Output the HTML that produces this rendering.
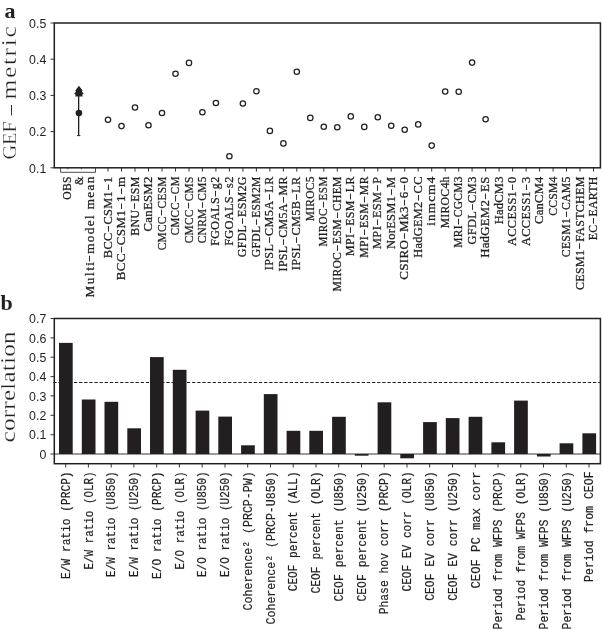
<!DOCTYPE html>
<html lang="en"><head><meta charset="utf-8"><title>GEF-metric and correlation</title>
<style>
html,body{margin:0;padding:0;background:#fff;}
body{width:602px;height:629px;overflow:hidden;}
svg{display:block;}
.sans{font-family:"Liberation Sans",sans-serif;}
.serif{font-family:"Liberation Serif",serif;}
.mono{font-family:"Liberation Mono",monospace;}
</style></head><body>
<svg width="602" height="629" viewBox="0 0 602 629">
<rect x="0" y="0" width="602" height="629" fill="#fff"/>

<g id="panel-a" fill="none" stroke="#231f20">
<rect x="54.3" y="23.0" width="546.1" height="144.8" stroke-width="1.5"/>
<line x1="50.5" x2="54.3" y1="167.8" y2="167.8" stroke-width="0.9"/>
<line x1="50.5" x2="54.3" y1="131.6" y2="131.6" stroke-width="0.9"/>
<line x1="50.5" x2="54.3" y1="95.4" y2="95.4" stroke-width="0.9"/>
<line x1="50.5" x2="54.3" y1="59.2" y2="59.2" stroke-width="0.9"/>
<line x1="50.5" x2="54.3" y1="23.0" y2="23.0" stroke-width="0.9"/>
</g>
<g class="sans" font-size="12.3" fill="#231f20" text-anchor="end">
<text x="46.3" y="172.5" textLength="17.2" lengthAdjust="spacingAndGlyphs">0.1</text>
<text x="46.3" y="136.3" textLength="17.2" lengthAdjust="spacingAndGlyphs">0.2</text>
<text x="46.3" y="100.1" textLength="17.2" lengthAdjust="spacingAndGlyphs">0.3</text>
<text x="46.3" y="63.9" textLength="17.2" lengthAdjust="spacingAndGlyphs">0.4</text>
<text x="46.3" y="27.7" textLength="17.2" lengthAdjust="spacingAndGlyphs">0.5</text>
</g>
<g stroke="#231f20" stroke-width="0.9" fill="none">
<line x1="108.0" x2="108.0" y1="167.8" y2="171.6"/>
<line x1="121.5" x2="121.5" y1="167.8" y2="171.6"/>
<line x1="135.0" x2="135.0" y1="167.8" y2="171.6"/>
<line x1="148.5" x2="148.5" y1="167.8" y2="171.6"/>
<line x1="162.0" x2="162.0" y1="167.8" y2="171.6"/>
<line x1="175.5" x2="175.5" y1="167.8" y2="171.6"/>
<line x1="189.0" x2="189.0" y1="167.8" y2="171.6"/>
<line x1="202.4" x2="202.4" y1="167.8" y2="171.6"/>
<line x1="215.9" x2="215.9" y1="167.8" y2="171.6"/>
<line x1="229.4" x2="229.4" y1="167.8" y2="171.6"/>
<line x1="242.9" x2="242.9" y1="167.8" y2="171.6"/>
<line x1="256.4" x2="256.4" y1="167.8" y2="171.6"/>
<line x1="269.9" x2="269.9" y1="167.8" y2="171.6"/>
<line x1="283.4" x2="283.4" y1="167.8" y2="171.6"/>
<line x1="296.8" x2="296.8" y1="167.8" y2="171.6"/>
<line x1="310.3" x2="310.3" y1="167.8" y2="171.6"/>
<line x1="323.8" x2="323.8" y1="167.8" y2="171.6"/>
<line x1="337.3" x2="337.3" y1="167.8" y2="171.6"/>
<line x1="350.8" x2="350.8" y1="167.8" y2="171.6"/>
<line x1="364.3" x2="364.3" y1="167.8" y2="171.6"/>
<line x1="377.8" x2="377.8" y1="167.8" y2="171.6"/>
<line x1="391.2" x2="391.2" y1="167.8" y2="171.6"/>
<line x1="404.7" x2="404.7" y1="167.8" y2="171.6"/>
<line x1="418.2" x2="418.2" y1="167.8" y2="171.6"/>
<line x1="431.7" x2="431.7" y1="167.8" y2="171.6"/>
<line x1="445.2" x2="445.2" y1="167.8" y2="171.6"/>
<line x1="458.7" x2="458.7" y1="167.8" y2="171.6"/>
<line x1="472.1" x2="472.1" y1="167.8" y2="171.6"/>
<line x1="485.6" x2="485.6" y1="167.8" y2="171.6"/>
<line x1="499.1" x2="499.1" y1="167.8" y2="171.6"/>
<line x1="512.6" x2="512.6" y1="167.8" y2="171.6"/>
<line x1="526.1" x2="526.1" y1="167.8" y2="171.6"/>
<line x1="539.6" x2="539.6" y1="167.8" y2="171.6"/>
<line x1="553.1" x2="553.1" y1="167.8" y2="171.6"/>
<line x1="566.5" x2="566.5" y1="167.8" y2="171.6"/>
<line x1="580.0" x2="580.0" y1="167.8" y2="171.6"/>
<line x1="593.5" x2="593.5" y1="167.8" y2="171.6"/>
<path d="M60.6 167.8 V172.3 H95.5 V167.8" stroke-width="0.8"/>
<line x1="67.8" x2="67.8" y1="167.8" y2="169.4" stroke-width="0.7"/>
<line x1="81.3" x2="81.3" y1="167.8" y2="169.4" stroke-width="0.7"/>
</g>
<g stroke="#231f20" stroke-width="1.25" fill="#fff">
<circle cx="108.0" cy="119.7" r="2.68"/>
<circle cx="121.5" cy="126.1" r="2.68"/>
<circle cx="135.0" cy="107.5" r="2.68"/>
<circle cx="148.5" cy="125.2" r="2.68"/>
<circle cx="162.0" cy="113.0" r="2.68"/>
<circle cx="175.5" cy="73.8" r="2.68"/>
<circle cx="189.0" cy="62.9" r="2.68"/>
<circle cx="202.4" cy="112.2" r="2.68"/>
<circle cx="215.9" cy="103.0" r="2.68"/>
<circle cx="229.4" cy="156.3" r="2.68"/>
<circle cx="242.9" cy="103.5" r="2.68"/>
<circle cx="256.4" cy="91.3" r="2.68"/>
<circle cx="269.9" cy="130.9" r="2.68"/>
<circle cx="283.4" cy="143.4" r="2.68"/>
<circle cx="296.8" cy="71.8" r="2.68"/>
<circle cx="310.3" cy="117.9" r="2.68"/>
<circle cx="323.8" cy="126.7" r="2.68"/>
<circle cx="337.3" cy="127.2" r="2.68"/>
<circle cx="350.8" cy="116.4" r="2.68"/>
<circle cx="364.3" cy="126.9" r="2.68"/>
<circle cx="377.8" cy="117.2" r="2.68"/>
<circle cx="391.2" cy="125.7" r="2.68"/>
<circle cx="404.7" cy="129.7" r="2.68"/>
<circle cx="418.2" cy="124.4" r="2.68"/>
<circle cx="431.7" cy="145.6" r="2.68"/>
<circle cx="445.2" cy="91.5" r="2.68"/>
<circle cx="458.7" cy="91.8" r="2.68"/>
<circle cx="472.1" cy="62.6" r="2.68"/>
<circle cx="485.6" cy="119.2" r="2.68"/>
</g>
<g stroke="#231f20" fill="#231f20">
<line x1="78.65" x2="78.65" y1="90" y2="135.7" stroke-width="1.3"/>
<line x1="76.95" x2="80.35000000000001" y1="135.6" y2="135.6" stroke-width="0.9"/>
<circle cx="78.9" cy="113.1" r="3.3" stroke="none"/>
<polygon points="78.95,85.7 82.55,90.6 81.95,91.8 83.65,93.6 82.25,94.7 82.65,96.6 75.25,96.6 75.65,94.7 74.25,93.6 75.95,91.8 75.35,90.6" stroke="none"/>
</g>
<g class="serif" font-size="12" fill="#231f20" stroke="#231f20" stroke-width="0.28" text-anchor="end">
<g><text text-anchor="start" transform="translate(111.5 258.2) rotate(-90) scale(1.030 1)" textLength="24.7" lengthAdjust="spacing">BCC</text><text text-anchor="start" stroke-width="0.1" transform="translate(111.5 232.2) rotate(-90)" textLength="7.0" lengthAdjust="spacingAndGlyphs">-</text><text text-anchor="start" transform="translate(111.5 224.5) rotate(-90) scale(1.030 1)" textLength="32.3" lengthAdjust="spacing">CSM1</text><text text-anchor="start" stroke-width="0.1" transform="translate(111.5 190.8) rotate(-90)" textLength="7.0" lengthAdjust="spacingAndGlyphs">-</text><text text-anchor="start" transform="translate(111.5 183.0) rotate(-90) scale(1.030 1)" textLength="6.2" lengthAdjust="spacing">1</text></g>
<g><text text-anchor="start" transform="translate(125.0 280.2) rotate(-90) scale(1.086 1)" textLength="24.7" lengthAdjust="spacing">BCC</text><text text-anchor="start" stroke-width="0.1" transform="translate(124.9 252.9) rotate(-90)" textLength="7.0" lengthAdjust="spacingAndGlyphs">-</text><text text-anchor="start" transform="translate(125.0 245.2) rotate(-90) scale(1.086 1)" textLength="32.3" lengthAdjust="spacing">CSM1</text><text text-anchor="start" stroke-width="0.1" transform="translate(124.9 209.7) rotate(-90)" textLength="7.0" lengthAdjust="spacingAndGlyphs">-</text><text text-anchor="start" transform="translate(125.0 201.9) rotate(-90) scale(1.086 1)" textLength="6.2" lengthAdjust="spacing">1</text><text text-anchor="start" stroke-width="0.1" transform="translate(124.9 194.7) rotate(-90)" textLength="7.0" lengthAdjust="spacingAndGlyphs">-</text><text text-anchor="start" transform="translate(125.0 187.0) rotate(-90) scale(1.086 1)" textLength="9.6" lengthAdjust="spacing">m</text></g>
<g><text text-anchor="start" transform="translate(138.5 235.8) rotate(-90) scale(0.990 1)" textLength="26.1" lengthAdjust="spacing">BNU</text><text text-anchor="start" stroke-width="0.1" transform="translate(138.4 209.5) rotate(-90)" textLength="7.0" lengthAdjust="spacingAndGlyphs">-</text><text text-anchor="start" transform="translate(138.5 201.8) rotate(-90) scale(0.990 1)" textLength="25.4" lengthAdjust="spacing">ESM</text></g>
<text transform="translate(152.0 176.6) rotate(-90) scale(1.068 1)" textLength="51.4" lengthAdjust="spacing">CanESM2</text>
<g><text text-anchor="start" transform="translate(165.5 250.3) rotate(-90) scale(0.943 1)" textLength="35.7" lengthAdjust="spacing">CMCC</text><text text-anchor="start" stroke-width="0.1" transform="translate(165.4 216.1) rotate(-90)" textLength="7.0" lengthAdjust="spacingAndGlyphs">-</text><text text-anchor="start" transform="translate(165.5 208.4) rotate(-90) scale(0.943 1)" textLength="33.7" lengthAdjust="spacing">CESM</text></g>
<g><text text-anchor="start" transform="translate(179.0 235.3) rotate(-90) scale(0.918 1)" textLength="35.8" lengthAdjust="spacing">CMCC</text><text text-anchor="start" stroke-width="0.1" transform="translate(178.9 202.0) rotate(-90)" textLength="7.0" lengthAdjust="spacingAndGlyphs">-</text><text text-anchor="start" transform="translate(179.0 194.2) rotate(-90) scale(0.918 1)" textLength="19.2" lengthAdjust="spacing">CM</text></g>
<g><text text-anchor="start" transform="translate(192.5 243.3) rotate(-90) scale(0.945 1)" textLength="35.7" lengthAdjust="spacing">CMCC</text><text text-anchor="start" stroke-width="0.1" transform="translate(192.4 209.0) rotate(-90)" textLength="7.0" lengthAdjust="spacingAndGlyphs">-</text><text text-anchor="start" transform="translate(192.5 201.3) rotate(-90) scale(0.945 1)" textLength="26.1" lengthAdjust="spacing">CMS</text></g>
<g><text text-anchor="start" transform="translate(205.9 243.3) rotate(-90) scale(0.946 1)" textLength="36.4" lengthAdjust="spacing">CNRM</text><text text-anchor="start" stroke-width="0.1" transform="translate(205.8 208.4) rotate(-90)" textLength="7.0" lengthAdjust="spacingAndGlyphs">-</text><text text-anchor="start" transform="translate(205.9 200.7) rotate(-90) scale(0.946 1)" textLength="25.5" lengthAdjust="spacing">CM5</text></g>
<g><text text-anchor="start" transform="translate(219.4 245.8) rotate(-90) scale(1.006 1)" textLength="48.2" lengthAdjust="spacing">FGOALS</text><text text-anchor="start" stroke-width="0.1" transform="translate(219.3 196.9) rotate(-90)" textLength="7.0" lengthAdjust="spacingAndGlyphs">-</text><text text-anchor="start" transform="translate(219.4 189.2) rotate(-90) scale(1.006 1)" textLength="12.5" lengthAdjust="spacing">g2</text></g>
<g><text text-anchor="start" transform="translate(232.9 245.8) rotate(-90) scale(1.029 1)" textLength="48.1" lengthAdjust="spacing">FGOALS</text><text text-anchor="start" stroke-width="0.1" transform="translate(232.8 195.8) rotate(-90)" textLength="7.0" lengthAdjust="spacingAndGlyphs">-</text><text text-anchor="start" transform="translate(232.9 188.1) rotate(-90) scale(1.029 1)" textLength="11.2" lengthAdjust="spacing">s2</text></g>
<g><text text-anchor="start" transform="translate(246.4 257.2) rotate(-90) scale(0.993 1)" textLength="32.3" lengthAdjust="spacing">GFDL</text><text text-anchor="start" stroke-width="0.1" transform="translate(246.3 224.6) rotate(-90)" textLength="7.0" lengthAdjust="spacingAndGlyphs">-</text><text text-anchor="start" transform="translate(246.4 216.9) rotate(-90) scale(0.993 1)" textLength="40.6" lengthAdjust="spacing">ESM2G</text></g>
<g><text text-anchor="start" transform="translate(259.9 257.2) rotate(-90) scale(0.965 1)" textLength="32.4" lengthAdjust="spacing">GFDL</text><text text-anchor="start" stroke-width="0.1" transform="translate(259.8 225.5) rotate(-90)" textLength="7.0" lengthAdjust="spacingAndGlyphs">-</text><text text-anchor="start" transform="translate(259.9 217.8) rotate(-90) scale(0.965 1)" textLength="42.6" lengthAdjust="spacing">ESM2M</text></g>
<g><text text-anchor="start" transform="translate(273.4 270.2) rotate(-90) scale(1.018 1)" textLength="25.7" lengthAdjust="spacing">IPSL</text><text text-anchor="start" stroke-width="0.1" transform="translate(273.3 243.6) rotate(-90)" textLength="7.0" lengthAdjust="spacingAndGlyphs">-</text><text text-anchor="start" transform="translate(273.4 235.9) rotate(-90) scale(1.018 1)" textLength="34.3" lengthAdjust="spacing">CM5A</text><text text-anchor="start" stroke-width="0.1" transform="translate(273.3 200.4) rotate(-90)" textLength="7.0" lengthAdjust="spacingAndGlyphs">-</text><text text-anchor="start" transform="translate(273.4 192.7) rotate(-90) scale(1.018 1)" textLength="15.8" lengthAdjust="spacing">LR</text></g>
<g><text text-anchor="start" transform="translate(286.9 271.4) rotate(-90) scale(0.990 1)" textLength="25.7" lengthAdjust="spacing">IPSL</text><text text-anchor="start" stroke-width="0.1" transform="translate(286.8 245.5) rotate(-90)" textLength="7.0" lengthAdjust="spacingAndGlyphs">-</text><text text-anchor="start" transform="translate(286.9 237.8) rotate(-90) scale(0.990 1)" textLength="34.4" lengthAdjust="spacing">CM5A</text><text text-anchor="start" stroke-width="0.1" transform="translate(286.8 203.3) rotate(-90)" textLength="7.0" lengthAdjust="spacingAndGlyphs">-</text><text text-anchor="start" transform="translate(286.9 195.6) rotate(-90) scale(0.990 1)" textLength="19.2" lengthAdjust="spacing">MR</text></g>
<g><text text-anchor="start" transform="translate(300.3 270.2) rotate(-90) scale(1.028 1)" textLength="25.6" lengthAdjust="spacing">IPSL</text><text text-anchor="start" stroke-width="0.1" transform="translate(300.2 243.4) rotate(-90)" textLength="7.0" lengthAdjust="spacingAndGlyphs">-</text><text text-anchor="start" transform="translate(300.3 235.6) rotate(-90) scale(1.028 1)" textLength="33.7" lengthAdjust="spacing">CM5B</text><text text-anchor="start" stroke-width="0.1" transform="translate(300.2 200.6) rotate(-90)" textLength="7.0" lengthAdjust="spacingAndGlyphs">-</text><text text-anchor="start" transform="translate(300.3 192.9) rotate(-90) scale(1.028 1)" textLength="15.8" lengthAdjust="spacing">LR</text></g>
<text transform="translate(313.8 176.6) rotate(-90) scale(0.954 1)" textLength="46.7" lengthAdjust="spacing">MIROC5</text>
<g><text text-anchor="start" transform="translate(327.3 246.5) rotate(-90) scale(0.933 1)" textLength="40.7" lengthAdjust="spacing">MIROC</text><text text-anchor="start" stroke-width="0.1" transform="translate(327.2 208.1) rotate(-90)" textLength="7.0" lengthAdjust="spacingAndGlyphs">-</text><text text-anchor="start" transform="translate(327.3 200.4) rotate(-90) scale(0.933 1)" textLength="25.5" lengthAdjust="spacing">ESM</text></g>
<g><text text-anchor="start" transform="translate(340.8 291.4) rotate(-90) scale(0.967 1)" textLength="40.6" lengthAdjust="spacing">MIROC</text><text text-anchor="start" stroke-width="0.1" transform="translate(340.7 251.6) rotate(-90)" textLength="7.0" lengthAdjust="spacingAndGlyphs">-</text><text text-anchor="start" transform="translate(340.8 243.9) rotate(-90) scale(0.967 1)" textLength="25.4" lengthAdjust="spacing">ESM</text><text text-anchor="start" stroke-width="0.1" transform="translate(340.7 218.8) rotate(-90)" textLength="7.0" lengthAdjust="spacingAndGlyphs">-</text><text text-anchor="start" transform="translate(340.8 211.1) rotate(-90) scale(0.967 1)" textLength="35.7" lengthAdjust="spacing">CHEM</text></g>
<g><text text-anchor="start" transform="translate(354.3 256.0) rotate(-90) scale(0.994 1)" textLength="22.1" lengthAdjust="spacing">MPI</text><text text-anchor="start" stroke-width="0.1" transform="translate(354.2 233.6) rotate(-90)" textLength="7.0" lengthAdjust="spacingAndGlyphs">-</text><text text-anchor="start" transform="translate(354.3 225.8) rotate(-90) scale(0.994 1)" textLength="25.4" lengthAdjust="spacing">ESM</text><text text-anchor="start" stroke-width="0.1" transform="translate(354.2 200.1) rotate(-90)" textLength="7.0" lengthAdjust="spacingAndGlyphs">-</text><text text-anchor="start" transform="translate(354.3 192.3) rotate(-90) scale(0.994 1)" textLength="15.8" lengthAdjust="spacing">LR</text></g>
<g><text text-anchor="start" transform="translate(367.8 257.7) rotate(-90) scale(0.969 1)" textLength="22.1" lengthAdjust="spacing">MPI</text><text text-anchor="start" stroke-width="0.1" transform="translate(367.7 235.8) rotate(-90)" textLength="7.0" lengthAdjust="spacingAndGlyphs">-</text><text text-anchor="start" transform="translate(367.8 228.1) rotate(-90) scale(0.969 1)" textLength="25.4" lengthAdjust="spacing">ESM</text><text text-anchor="start" stroke-width="0.1" transform="translate(367.7 202.9) rotate(-90)" textLength="7.0" lengthAdjust="spacingAndGlyphs">-</text><text text-anchor="start" transform="translate(367.8 195.2) rotate(-90) scale(0.969 1)" textLength="19.2" lengthAdjust="spacing">MR</text></g>
<g><text text-anchor="start" transform="translate(381.2 249.0) rotate(-90) scale(1.030 1)" textLength="22.1" lengthAdjust="spacing">MPI</text><text text-anchor="start" stroke-width="0.1" transform="translate(381.1 225.8) rotate(-90)" textLength="7.0" lengthAdjust="spacingAndGlyphs">-</text><text text-anchor="start" transform="translate(381.2 218.1) rotate(-90) scale(1.030 1)" textLength="25.4" lengthAdjust="spacing">ESM</text><text text-anchor="start" stroke-width="0.1" transform="translate(381.1 191.4) rotate(-90)" textLength="7.0" lengthAdjust="spacingAndGlyphs">-</text><text text-anchor="start" transform="translate(381.2 183.7) rotate(-90) scale(1.030 1)" textLength="6.9" lengthAdjust="spacing">P</text></g>
<g><text text-anchor="start" transform="translate(394.7 249.0) rotate(-90) scale(1.037 1)" textLength="51.0" lengthAdjust="spacing">NorESM1</text><text text-anchor="start" stroke-width="0.1" transform="translate(394.6 195.6) rotate(-90)" textLength="7.0" lengthAdjust="spacingAndGlyphs">-</text><text text-anchor="start" transform="translate(394.7 187.9) rotate(-90) scale(1.037 1)" textLength="10.9" lengthAdjust="spacing">M</text></g>
<g><text text-anchor="start" transform="translate(408.2 279.7) rotate(-90) scale(1.085 1)" textLength="36.5" lengthAdjust="spacing">CSIRO</text><text text-anchor="start" stroke-width="0.1" transform="translate(408.1 239.6) rotate(-90)" textLength="7.0" lengthAdjust="spacingAndGlyphs">-</text><text text-anchor="start" transform="translate(408.2 231.9) rotate(-90) scale(1.085 1)" textLength="23.4" lengthAdjust="spacing">Mk3</text><text text-anchor="start" stroke-width="0.1" transform="translate(408.1 206.1) rotate(-90)" textLength="7.0" lengthAdjust="spacingAndGlyphs">-</text><text text-anchor="start" transform="translate(408.2 198.3) rotate(-90) scale(1.085 1)" textLength="6.2" lengthAdjust="spacing">6</text><text text-anchor="start" stroke-width="0.1" transform="translate(408.1 191.1) rotate(-90)" textLength="7.0" lengthAdjust="spacingAndGlyphs">-</text><text text-anchor="start" transform="translate(408.2 183.4) rotate(-90) scale(1.085 1)" textLength="6.2" lengthAdjust="spacing">0</text></g>
<g><text text-anchor="start" transform="translate(421.7 257.7) rotate(-90) scale(1.029 1)" textLength="54.4" lengthAdjust="spacing">HadGEM2</text><text text-anchor="start" stroke-width="0.1" transform="translate(421.6 201.3) rotate(-90)" textLength="7.0" lengthAdjust="spacingAndGlyphs">-</text><text text-anchor="start" transform="translate(421.7 193.6) rotate(-90) scale(1.029 1)" textLength="16.5" lengthAdjust="spacing">CC</text></g>
<text transform="translate(435.2 176.6) rotate(-90) scale(1.100 1)" textLength="44.7" lengthAdjust="spacing">inmcm4</text>
<text transform="translate(448.7 176.6) rotate(-90) scale(0.978 1)" textLength="52.9" lengthAdjust="spacing">MIROC4h</text>
<g><text text-anchor="start" transform="translate(462.2 247.8) rotate(-90) scale(0.953 1)" textLength="23.5" lengthAdjust="spacing">MRI</text><text text-anchor="start" stroke-width="0.1" transform="translate(462.1 225.0) rotate(-90)" textLength="7.0" lengthAdjust="spacingAndGlyphs">-</text><text text-anchor="start" transform="translate(462.2 217.2) rotate(-90) scale(0.953 1)" textLength="42.7" lengthAdjust="spacing">CGCM3</text></g>
<g><text text-anchor="start" transform="translate(475.6 244.5) rotate(-90) scale(1.035 1)" textLength="32.3" lengthAdjust="spacing">GFDL</text><text text-anchor="start" stroke-width="0.1" transform="translate(475.5 210.6) rotate(-90)" textLength="7.0" lengthAdjust="spacingAndGlyphs">-</text><text text-anchor="start" transform="translate(475.6 202.9) rotate(-90) scale(1.035 1)" textLength="25.4" lengthAdjust="spacing">CM3</text></g>
<g><text text-anchor="start" transform="translate(489.1 257.8) rotate(-90) scale(1.061 1)" textLength="54.3" lengthAdjust="spacing">HadGEM2</text><text text-anchor="start" stroke-width="0.1" transform="translate(489.0 199.7) rotate(-90)" textLength="7.0" lengthAdjust="spacingAndGlyphs">-</text><text text-anchor="start" transform="translate(489.1 192.0) rotate(-90) scale(1.061 1)" textLength="14.5" lengthAdjust="spacing">ES</text></g>
<text transform="translate(502.6 176.6) rotate(-90) scale(1.040 1)" textLength="45.9" lengthAdjust="spacing">HadCM3</text>
<g><text text-anchor="start" transform="translate(516.1 245.9) rotate(-90) scale(1.030 1)" textLength="53.1" lengthAdjust="spacing">ACCESS1</text><text text-anchor="start" stroke-width="0.1" transform="translate(516.0 190.8) rotate(-90)" textLength="7.0" lengthAdjust="spacingAndGlyphs">-</text><text text-anchor="start" transform="translate(516.1 183.0) rotate(-90) scale(1.030 1)" textLength="6.2" lengthAdjust="spacing">0</text></g>
<g><text text-anchor="start" transform="translate(529.6 245.9) rotate(-90) scale(1.030 1)" textLength="53.1" lengthAdjust="spacing">ACCESS1</text><text text-anchor="start" stroke-width="0.1" transform="translate(529.5 190.8) rotate(-90)" textLength="7.0" lengthAdjust="spacingAndGlyphs">-</text><text text-anchor="start" transform="translate(529.6 183.0) rotate(-90) scale(1.030 1)" textLength="6.2" lengthAdjust="spacing">3</text></g>
<text transform="translate(543.1 176.6) rotate(-90) scale(1.046 1)" textLength="45.2" lengthAdjust="spacing">CanCM4</text>
<text transform="translate(556.6 176.6) rotate(-90) scale(0.971 1)" textLength="40.4" lengthAdjust="spacing">CCSM4</text>
<g><text text-anchor="start" transform="translate(570.0 257.2) rotate(-90) scale(0.974 1)" textLength="40.0" lengthAdjust="spacing">CESM1</text><text text-anchor="start" stroke-width="0.1" transform="translate(569.9 217.8) rotate(-90)" textLength="7.0" lengthAdjust="spacingAndGlyphs">-</text><text text-anchor="start" transform="translate(570.0 210.1) rotate(-90) scale(0.974 1)" textLength="34.4" lengthAdjust="spacing">CAM5</text></g>
<g><text text-anchor="start" transform="translate(583.5 290.0) rotate(-90) scale(1.001 1)" textLength="39.9" lengthAdjust="spacing">CESM1</text><text text-anchor="start" stroke-width="0.1" transform="translate(583.4 249.5) rotate(-90)" textLength="7.0" lengthAdjust="spacingAndGlyphs">-</text><text text-anchor="start" transform="translate(583.5 241.8) rotate(-90) scale(1.001 1)" textLength="65.1" lengthAdjust="spacing">FASTCHEM</text></g>
<g><text text-anchor="start" transform="translate(597.0 240.3) rotate(-90) scale(0.984 1)" textLength="15.8" lengthAdjust="spacing">EC</text><text text-anchor="start" stroke-width="0.1" transform="translate(596.9 224.2) rotate(-90)" textLength="7.0" lengthAdjust="spacingAndGlyphs">-</text><text text-anchor="start" transform="translate(597.0 216.5) rotate(-90) scale(0.984 1)" textLength="40.5" lengthAdjust="spacing">EARTH</text></g>
<text transform="translate(70.9 176.6) rotate(-90) scale(0.968 1)" textLength="23.9" lengthAdjust="spacing">OBS</text>
<text transform="translate(83.4 176.6) rotate(-90)" textLength="8.5" lengthAdjust="spacingAndGlyphs">&amp;</text>
<g><text text-anchor="start" transform="translate(93.5 297.5) rotate(-90) scale(1.100 1)" textLength="32.3" lengthAdjust="spacing">Multi</text><text text-anchor="start" stroke-width="0.1" transform="translate(93.4 262.0) rotate(-90)" textLength="7.0" lengthAdjust="spacingAndGlyphs">-</text><text text-anchor="start" transform="translate(93.5 253.8) rotate(-90) scale(1.100 1)" textLength="70.2" lengthAdjust="spacing">model mean</text></g>
</g>
<g class="serif" fill="#231f20">
<g transform="translate(15.8 0)" stroke="#fff" stroke-width="0.25"><text transform="translate(0 159.6) rotate(-90)" font-size="19.5" textLength="38.3" lengthAdjust="spacingAndGlyphs">GEF</text><text transform="translate(-0.9 117.0) rotate(-90)" font-size="13" textLength="13.4" lengthAdjust="spacingAndGlyphs" stroke="none">-</text><text transform="translate(0.4 99.6) rotate(-90) scale(1.22 1)" font-size="21" textLength="60.2" lengthAdjust="spacing">metric</text></g>
<text x="4.6" y="18.1" font-size="22" font-weight="bold">a</text>
<text x="0.4" y="309.6" font-size="22" font-weight="bold">b</text>
</g>
<g id="panel-b" fill="none" stroke="#231f20">
<rect x="54.3" y="318.5" width="546.1" height="145.2" stroke-width="1.5"/>
<line x1="50.5" x2="54.3" y1="454.0" y2="454.0" stroke-width="0.9"/>
<line x1="50.5" x2="54.3" y1="434.7" y2="434.7" stroke-width="0.9"/>
<line x1="50.5" x2="54.3" y1="415.3" y2="415.3" stroke-width="0.9"/>
<line x1="50.5" x2="54.3" y1="395.9" y2="395.9" stroke-width="0.9"/>
<line x1="50.5" x2="54.3" y1="376.6" y2="376.6" stroke-width="0.9"/>
<line x1="50.5" x2="54.3" y1="357.2" y2="357.2" stroke-width="0.9"/>
<line x1="50.5" x2="54.3" y1="337.9" y2="337.9" stroke-width="0.9"/>
<line x1="50.5" x2="54.3" y1="318.5" y2="318.5" stroke-width="0.9"/>
<line x1="54.3" x2="600.4" y1="454.0" y2="454.0" stroke-width="0.9"/>
<line x1="53.3" x2="600.4" y1="382.5" y2="382.5" stroke-width="1.2" stroke-dasharray="3.3 1.84"/>
</g>
<g class="sans" font-size="12.3" fill="#231f20" text-anchor="end">
<text x="46.3" y="458.7">0</text>
<text x="46.3" y="439.4" textLength="17.2" lengthAdjust="spacingAndGlyphs">0.1</text>
<text x="46.3" y="420.0" textLength="17.2" lengthAdjust="spacingAndGlyphs">0.2</text>
<text x="46.3" y="400.6" textLength="17.2" lengthAdjust="spacingAndGlyphs">0.3</text>
<text x="46.3" y="381.3" textLength="17.2" lengthAdjust="spacingAndGlyphs">0.4</text>
<text x="46.3" y="361.9" textLength="17.2" lengthAdjust="spacingAndGlyphs">0.5</text>
<text x="46.3" y="342.6" textLength="17.2" lengthAdjust="spacingAndGlyphs">0.6</text>
<text x="46.3" y="323.2" textLength="17.2" lengthAdjust="spacingAndGlyphs">0.7</text>
</g>
<g fill="#231f20" stroke="none">
<rect x="59.0" y="342.9" width="13.7" height="111.1"/>
<rect x="81.8" y="399.5" width="13.7" height="54.5"/>
<rect x="104.5" y="401.8" width="13.7" height="52.2"/>
<rect x="127.3" y="428.3" width="13.7" height="25.7"/>
<rect x="150.0" y="357.1" width="13.7" height="96.9"/>
<rect x="172.8" y="369.8" width="13.7" height="84.3"/>
<rect x="195.6" y="410.6" width="13.7" height="43.5"/>
<rect x="218.3" y="416.6" width="13.7" height="37.5"/>
<rect x="241.1" y="445.3" width="13.7" height="8.7"/>
<rect x="263.8" y="394.1" width="13.7" height="59.9"/>
<rect x="286.6" y="430.8" width="13.7" height="23.2"/>
<rect x="309.3" y="430.8" width="13.7" height="23.2"/>
<rect x="332.1" y="416.8" width="13.7" height="37.2"/>
<rect x="354.8" y="454.0" width="13.7" height="1.7"/>
<rect x="377.6" y="402.3" width="13.7" height="51.7"/>
<rect x="400.3" y="454.0" width="13.7" height="4.3"/>
<rect x="423.1" y="422.1" width="13.7" height="31.9"/>
<rect x="445.8" y="418.1" width="13.7" height="36.0"/>
<rect x="468.6" y="416.8" width="13.7" height="37.3"/>
<rect x="491.4" y="442.3" width="13.7" height="11.7"/>
<rect x="514.1" y="400.6" width="13.7" height="53.4"/>
<rect x="536.9" y="454.0" width="13.7" height="2.5"/>
<rect x="559.6" y="443.3" width="13.7" height="10.7"/>
<rect x="582.4" y="433.3" width="13.7" height="20.7"/>
</g>
<g stroke="#231f20" stroke-width="0.9">
<line x1="65.7" x2="65.7" y1="463.7" y2="467.5"/>
<line x1="88.4" x2="88.4" y1="463.7" y2="467.5"/>
<line x1="111.2" x2="111.2" y1="463.7" y2="467.5"/>
<line x1="133.9" x2="133.9" y1="463.7" y2="467.5"/>
<line x1="156.7" x2="156.7" y1="463.7" y2="467.5"/>
<line x1="179.4" x2="179.4" y1="463.7" y2="467.5"/>
<line x1="202.2" x2="202.2" y1="463.7" y2="467.5"/>
<line x1="225.0" x2="225.0" y1="463.7" y2="467.5"/>
<line x1="247.7" x2="247.7" y1="463.7" y2="467.5"/>
<line x1="270.5" x2="270.5" y1="463.7" y2="467.5"/>
<line x1="293.2" x2="293.2" y1="463.7" y2="467.5"/>
<line x1="316.0" x2="316.0" y1="463.7" y2="467.5"/>
<line x1="338.7" x2="338.7" y1="463.7" y2="467.5"/>
<line x1="361.5" x2="361.5" y1="463.7" y2="467.5"/>
<line x1="384.2" x2="384.2" y1="463.7" y2="467.5"/>
<line x1="407.0" x2="407.0" y1="463.7" y2="467.5"/>
<line x1="429.7" x2="429.7" y1="463.7" y2="467.5"/>
<line x1="452.5" x2="452.5" y1="463.7" y2="467.5"/>
<line x1="475.3" x2="475.3" y1="463.7" y2="467.5"/>
<line x1="498.0" x2="498.0" y1="463.7" y2="467.5"/>
<line x1="520.8" x2="520.8" y1="463.7" y2="467.5"/>
<line x1="543.5" x2="543.5" y1="463.7" y2="467.5"/>
<line x1="566.3" x2="566.3" y1="463.7" y2="467.5"/>
<line x1="589.0" x2="589.0" y1="463.7" y2="467.5"/>
</g>
<g class="mono" font-size="12.4" fill="#231f20" stroke="#231f20" stroke-width="0.2" text-anchor="end">
<text transform="translate(69.9 471.4) rotate(-90)" textLength="107.6" lengthAdjust="spacingAndGlyphs">E/W ratio (PRCP)</text>
<text transform="translate(92.6 471.4) rotate(-90)" textLength="98.1" lengthAdjust="spacingAndGlyphs">E/W ratio (OLR)</text>
<text transform="translate(115.4 471.4) rotate(-90)" textLength="105.6" lengthAdjust="spacingAndGlyphs">E/W ratio (U850)</text>
<text transform="translate(138.1 471.4) rotate(-90)" textLength="105.6" lengthAdjust="spacingAndGlyphs">E/W ratio (U250)</text>
<text transform="translate(160.9 471.4) rotate(-90)" textLength="107.6" lengthAdjust="spacingAndGlyphs">E/O ratio (PRCP)</text>
<text transform="translate(183.6 471.4) rotate(-90)" textLength="98.1" lengthAdjust="spacingAndGlyphs">E/O ratio (OLR)</text>
<text transform="translate(206.4 471.4) rotate(-90)" textLength="105.6" lengthAdjust="spacingAndGlyphs">E/O ratio (U850)</text>
<text transform="translate(229.2 471.4) rotate(-90)" textLength="105.6" lengthAdjust="spacingAndGlyphs">E/O ratio (U250)</text>
<text transform="translate(251.9 471.4) rotate(-90)" textLength="139.0" lengthAdjust="spacingAndGlyphs">Coherence² (PRCP-PW)</text>
<text transform="translate(274.7 471.4) rotate(-90)" textLength="153.1" lengthAdjust="spacingAndGlyphs">Coherence² (PRCP-U850)</text>
<text transform="translate(297.4 471.4) rotate(-90)" textLength="119.8" lengthAdjust="spacingAndGlyphs">CEOF percent (ALL)</text>
<text transform="translate(320.2 471.4) rotate(-90)" textLength="122.1" lengthAdjust="spacingAndGlyphs">CEOF percent (OLR)</text>
<text transform="translate(342.9 471.4) rotate(-90)" textLength="130.2" lengthAdjust="spacingAndGlyphs">CEOF percent (U850)</text>
<text transform="translate(365.7 471.4) rotate(-90)" textLength="130.2" lengthAdjust="spacingAndGlyphs">CEOF percent (U250)</text>
<text transform="translate(388.4 471.4) rotate(-90)" textLength="142.9" lengthAdjust="spacingAndGlyphs">Phase hov corr (PRCP)</text>
<text transform="translate(411.2 471.4) rotate(-90)" textLength="120.1" lengthAdjust="spacingAndGlyphs">CEOF EV corr (OLR)</text>
<text transform="translate(433.9 471.4) rotate(-90)" textLength="129.4" lengthAdjust="spacingAndGlyphs">CEOF EV corr (U850)</text>
<text transform="translate(456.7 471.4) rotate(-90)" textLength="129.4" lengthAdjust="spacingAndGlyphs">CEOF EV corr (U250)</text>
<text transform="translate(479.5 471.4) rotate(-90)" textLength="117.1" lengthAdjust="spacingAndGlyphs">CEOF PC max corr</text>
<text transform="translate(502.2 471.4) rotate(-90)" textLength="158.1" lengthAdjust="spacingAndGlyphs">Period from WFPS (PRCP)</text>
<text transform="translate(525.0 471.4) rotate(-90)" textLength="149.1" lengthAdjust="spacingAndGlyphs">Period from WFPS (OLR)</text>
<text transform="translate(547.7 471.4) rotate(-90)" textLength="158.1" lengthAdjust="spacingAndGlyphs">Period from WFPS (U850)</text>
<text transform="translate(570.5 471.4) rotate(-90)" textLength="158.1" lengthAdjust="spacingAndGlyphs">Period from WFPS (U250)</text>
<text transform="translate(593.2 471.4) rotate(-90)" textLength="110.5" lengthAdjust="spacingAndGlyphs">Period from CEOF</text>
</g>
<g class="serif" fill="#231f20">
<text transform="translate(15.4 442.4) rotate(-90) scale(1.2 1)" font-size="21" textLength="92.5" lengthAdjust="spacing" stroke="#fff" stroke-width="0.25">correlation</text>
</g>
</svg>
</body></html>
